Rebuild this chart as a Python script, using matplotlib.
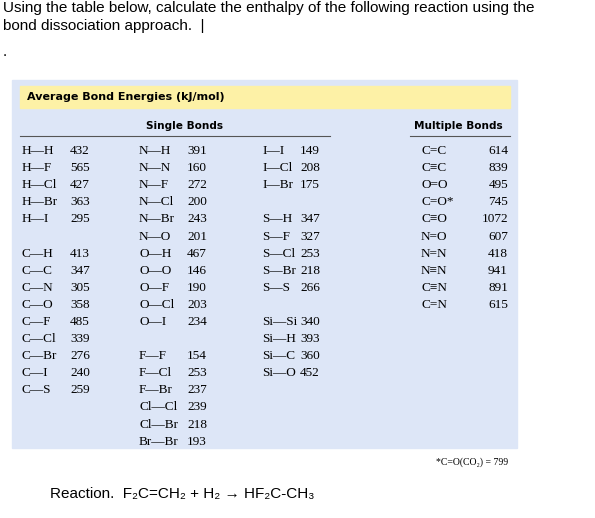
import matplotlib
matplotlib.use("Agg")
import matplotlib.pyplot as plt
from matplotlib.patches import Rectangle

# (row, bond, energy) for each column of the table
col_a = [(0, "H\u2014H", 432), (1, "H\u2014F", 565), (2, "H\u2014Cl", 427), (3, "H\u2014Br", 363),
         (4, "H\u2014I", 295), (6, "C\u2014H", 413), (7, "C\u2014C", 347), (8, "C\u2014N", 305),
         (9, "C\u2014O", 358), (10, "C\u2014F", 485), (11, "C\u2014Cl", 339), (12, "C\u2014Br", 276),
         (13, "C\u2014I", 240), (14, "C\u2014S", 259)]
col_b = [(0, "N\u2014H", 391), (1, "N\u2014N", 160), (2, "N\u2014F", 272), (3, "N\u2014Cl", 200),
         (4, "N\u2014Br", 243), (5, "N\u2014O", 201), (6, "O\u2014H", 467), (7, "O\u2014O", 146),
         (8, "O\u2014F", 190), (9, "O\u2014Cl", 203), (10, "O\u2014I", 234), (12, "F\u2014F", 154),
         (13, "F\u2014Cl", 253), (14, "F\u2014Br", 237), (15, "Cl\u2014Cl", 239), (16, "Cl\u2014Br", 218),
         (17, "Br\u2014Br", 193)]
col_c = [(0, "I\u2014I", 149), (1, "I\u2014Cl", 208), (2, "I\u2014Br", 175), (4, "S\u2014H", 347),
         (5, "S\u2014F", 327), (6, "S\u2014Cl", 253), (7, "S\u2014Br", 218), (8, "S\u2014S", 266),
         (10, "Si\u2014Si", 340), (11, "Si\u2014H", 393), (12, "Si\u2014C", 360), (13, "Si\u2014O", 452)]
col_m = [(0, "C=C", 614), (1, "C\u2261C", 839), (2, "O=O", 495), (3, "C=O*", 745),
         (4, "C\u2261O", 1072), (5, "N=O", 607), (6, "N=N", 418), (7, "N\u2261N", 941),
         (8, "C\u2261N", 891), (9, "C=N", 615)]

fig = plt.figure(figsize=(5.95, 5.18), dpi=100)
ax = fig.add_axes([0, 0, 1, 1])
ax.set_xlim(0, 595)
ax.set_ylim(518, 0)
ax.axis("off")

sans = ["Liberation Sans", "DejaVu Sans"]
serif = ["Liberation Serif", "DejaVu Serif"]

ax.text(3, 8, "Using the table below, calculate the enthalpy of the following reaction using the",
        fontsize=11, family=sans, va="center")
ax.text(3, 26, "bond dissociation approach.  |", fontsize=11, family=sans, va="center")
ax.text(3, 52, ".", fontsize=11, family=sans, va="center")

# panel and title bar
ax.add_patch(Rectangle((12, 80), 505, 368, color="#dde6f7", zorder=0))
ax.add_patch(Rectangle((20, 86), 490, 22, color="#fdf1a6", zorder=1))
ax.text(27, 97, "Average Bond Energies (kJ/mol)", fontsize=8, weight="bold",
        family="DejaVu Sans", va="center")
ax.text(185, 126, "Single Bonds", fontsize=7.6, weight="bold", family="DejaVu Sans",
        ha="center", va="center")
ax.text(458, 126, "Multiple Bonds", fontsize=7.6, weight="bold", family="DejaVu Sans",
        ha="center", va="center")
ax.plot([20, 330], [136, 136], color="#555555", lw=0.8)
ax.plot([410, 510], [136, 136], color="#555555", lw=0.8)

y0, dy = 151, 17.1
for data, lx, vx in [(col_a, 22, 90), (col_b, 139, 207), (col_c, 262, 320), (col_m, 421, 508)]:
    for row, bond, val in data:
        y = y0 + row * dy
        ax.text(lx, y, bond, fontsize=9.5, family=serif, va="center")
        ax.text(vx, y, str(val), fontsize=9.5, family=serif, va="center", ha="right")

ax.text(508, 462, "*C=O(CO\u2082) = 799", fontsize=7, family=serif, va="center", ha="right")

ax.text(50, 494, "Reaction.  F\u2082C=CH\u2082 + H\u2082 \u2192 HF\u2082C-CH\u2083", fontsize=11,
        family=sans, va="center")

fig.savefig("out.png", dpi=100)
